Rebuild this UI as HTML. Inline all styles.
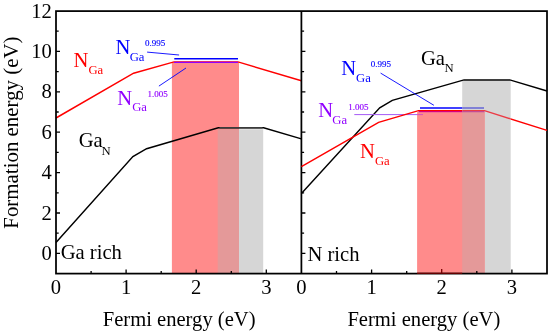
<!DOCTYPE html>
<html><head><meta charset="utf-8"><style>
html,body{margin:0;padding:0;background:#fff;}
svg{display:block;}
text{font-family:"Liberation Serif","Times New Roman",serif;}
</style></head><body>
<svg width="550" height="332" viewBox="0 0 550 332">
<defs><clipPath id="outG"><path d="M0 0H462.2V332H0ZM510.7 0H550V332H510.7Z"/></clipPath><clipPath id="inG"><rect x="462.2" y="0" width="48.5" height="332"/></clipPath></defs>
<rect x="217.7" y="129.3" width="45.5" height="144.3" fill="rgb(214,214,214)"/>
<rect x="171.9" y="62.6" width="67.1" height="211.0" fill="rgb(255,139,139)"/>
<rect x="217.7" y="129.3" width="21.3" height="144.3" fill="rgb(228,153,153)"/>
<polyline points="56.0,242.6 132.9,156.6 146.6,148.7 218.3,127.8 263.6,127.8 301.4,138.9" fill="none" stroke="#000" stroke-width="1.45"/>
<line x1="219.5" y1="127.8" x2="262.5" y2="127.8" stroke="rgb(60,60,60)" stroke-width="1.45"/>
<polyline points="56.0,118 133.6,73.2 174,61.9 238,61.9 301.4,80.8" fill="none" stroke="#f00" stroke-width="1.45"/>
<line x1="174.3" y1="58.7" x2="238" y2="58.7" stroke="#00f" stroke-width="1.4"/>
<line x1="174" y1="62.4" x2="238" y2="62.4" stroke="rgb(145,0,255)" stroke-width="1.4"/>
<line x1="147.1" y1="52.1" x2="179.1" y2="55" stroke="#00f" stroke-width="0.9"/>
<line x1="158.9" y1="86.1" x2="186" y2="68" stroke="#00f" stroke-width="0.9"/>
<rect x="462.2" y="80.8" width="48.5" height="192.8" fill="rgb(214,214,214)"/>
<rect x="417.1" y="112.1" width="67.5" height="161.5" fill="rgb(255,139,139)"/>
<rect x="462.2" y="112.1" width="22.4" height="161.5" fill="rgb(228,153,153)"/>
<g stroke="#000" stroke-width="1.75" fill="none"><rect x="56.0" y="11.1" width="491.0" height="262.5"/><line x1="301.4" y1="11.1" x2="301.4" y2="273.6"/></g>
<path d="M56.0 253.4h4.0M301.4 253.4h4.0M56.0 233.2h2.7M301.4 233.2h2.7M56.0 213.0h4.0M301.4 213.0h4.0M56.0 192.8h2.7M301.4 192.8h2.7M56.0 172.6h4.0M301.4 172.6h4.0M56.0 152.4h2.7M301.4 152.4h2.7M56.0 132.2h4.0M301.4 132.2h4.0M56.0 112.0h2.7M301.4 112.0h2.7M56.0 91.8h4.0M301.4 91.8h4.0M56.0 71.6h2.7M301.4 71.6h2.7M56.0 51.4h4.0M301.4 51.4h4.0M56.0 31.2h2.7M301.4 31.2h2.7M91.1 273.6v-2.7M336.5 273.6v-2.7M126.1 273.6v-4.0M371.6 273.6v-4.0M161.2 273.6v-2.7M406.7 273.6v-2.7M196.2 273.6v-4.0M231.3 273.6v-2.7M476.8 273.6v-2.7M266.3 273.6v-4.0M511.9 273.6v-4.0" stroke="#000" stroke-width="1.3"/>
<rect x="417.1" y="272.7" width="45.1" height="1.2" fill="rgb(110,0,0)"/>
<path d="M441.7 273v-4.0" stroke="rgb(120,0,0)" stroke-width="1.3"/>
<polyline points="301.4,193.5 379.7,107.8 392.3,100.4 464,79.9 509.8,79.9 547.0,91" fill="none" stroke="#000" stroke-width="1.45"/>
<line x1="354.3" y1="114.6" x2="417.1" y2="114.6" stroke="rgb(165,90,245)" stroke-width="1"/>
<line x1="417.1" y1="114.6" x2="423" y2="114.6" stroke="rgb(215,80,190)" stroke-width="1"/>
<g clip-path="url(#outG)"><line x1="420" y1="108" x2="484" y2="108" stroke="#00f" stroke-width="1.4"/><polyline points="301.4,166.6 378.6,122.4 418.5,110.6 484.5,110.6 547.0,130.4" fill="none" stroke="#f00" stroke-width="1.45"/><line x1="418.5" y1="111.6" x2="484.5" y2="111.6" stroke="rgb(215,0,130)" stroke-width="1.2"/></g>
<g clip-path="url(#inG)"><line x1="420" y1="108" x2="484" y2="108" stroke="rgb(100,100,214)" stroke-width="1.4"/><polyline points="301.4,166.6 378.6,122.4 418.5,110.6 484.5,110.6 547.0,130.4" fill="none" stroke="rgb(235,60,70)" stroke-width="1.45"/><line x1="418.5" y1="111.6" x2="484.5" y2="111.6" stroke="rgb(195,75,150)" stroke-width="1.2"/></g>
<line x1="380.6" y1="73.1" x2="433.9" y2="105.3" stroke="#00f" stroke-width="0.9"/>
<g font-size="20.6" fill="#000">
<text x="51.9" y="260.0" text-anchor="end">0</text>
<text x="51.9" y="219.6" text-anchor="end">2</text>
<text x="51.9" y="179.2" text-anchor="end">4</text>
<text x="51.9" y="138.8" text-anchor="end">6</text>
<text x="51.9" y="98.4" text-anchor="end">8</text>
<text x="51.9" y="58.0" text-anchor="end">10</text>
<text x="51.9" y="17.6" text-anchor="end">12</text>
<text x="56.0" y="294.2" text-anchor="middle">0</text>
<text x="301.4" y="294.2" text-anchor="middle">0</text>
<text x="126.1" y="294.2" text-anchor="middle">1</text>
<text x="371.6" y="294.2" text-anchor="middle">1</text>
<text x="196.2" y="294.2" text-anchor="middle">2</text>
<text x="441.7" y="294.2" text-anchor="middle">2</text>
<text x="266.3" y="294.2" text-anchor="middle">3</text>
<text x="511.9" y="294.2" text-anchor="middle">3</text>
<text x="102.7" y="326">Fermi energy (eV)</text>
<text x="347.4" y="326">Fermi energy (eV)</text>
<text transform="translate(18.1,228.7) rotate(-90)" font-size="20.9">Formation energy (eV)</text>
<text x="60.7" y="259">Ga rich</text>
<text x="307.4" y="261.2">N rich</text>
<text x="78.7" y="147.3">Ga<tspan font-size="12.7" dx="-1.2" dy="7.2">N</tspan></text>
<text x="421" y="65">Ga<tspan font-size="12.7" dx="-0.5" dy="7">N</tspan></text>
</g>
<text x="73.5" y="66.7" fill="#f00" font-size="20.6">N<tspan font-size="12.7" dx="0" dy="7.3">Ga</tspan></text>
<text x="360" y="158.2" fill="#f00" font-size="20.6">N<tspan font-size="12.7" dx="0" dy="7">Ga</tspan></text>
<text x="115.6" y="53.6" fill="#00f" font-size="20.6">N<tspan font-size="12.7" dx="-0.8" dy="7.5">Ga</tspan></text><text x="145" y="46.4" fill="#00f" font-size="9" stroke="#00f" stroke-width="0.15">0.995</text>
<text x="341.2" y="74.9" fill="#00f" font-size="20.6">N<tspan font-size="12.7" dx="0" dy="6.7">Ga</tspan></text><text x="370.8" y="66.8" fill="#00f" font-size="9" stroke="#00f" stroke-width="0.15">0.995</text>
<text x="117.3" y="104.6" fill="rgb(145,0,255)" font-size="20.6">N<tspan font-size="12.7" dx="0" dy="6.8">Ga</tspan></text><text x="147.5" y="97" fill="rgb(145,0,255)" font-size="9" stroke="rgb(145,0,255)" stroke-width="0.15">1.005</text>
<text x="318.2" y="117.3" fill="rgb(145,0,255)" font-size="20.6">N<tspan font-size="12.7" dx="-0.8" dy="7">Ga</tspan></text><text x="348.2" y="109.6" fill="rgb(145,0,255)" font-size="9" stroke="rgb(145,0,255)" stroke-width="0.15">1.005</text>
</svg>
</body></html>
